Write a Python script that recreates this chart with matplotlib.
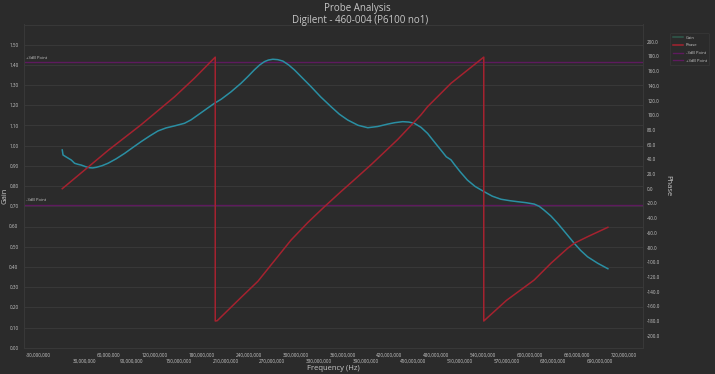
import matplotlib
matplotlib.use("Agg")
import matplotlib.pyplot as plt
from matplotlib.ticker import FuncFormatter

# ---- data (frequency in MHz) ----
gain_freq_mhz = [1, 2, 7, 12.6, 16.8, 21, 25.4, 31, 36, 40, 44.6, 52, 59.6, 70, 80.9, 91, 102,
                 113, 123.6, 134, 144.8, 157.6, 166, 174.8, 185, 196, 204.6, 217, 230, 239,
                 247, 254, 260, 265, 270.8, 277, 283.6, 291, 298.5, 309, 319.8, 332, 345.4,
                 356, 366.8, 380, 392.4, 405, 418, 427, 437.2, 445, 452, 460.6, 469, 477,
                 486, 493, 497, 499, 503, 511, 520, 530, 541.6, 552, 563, 574, 584, 595,
                 605.6, 612, 618, 627, 635.6, 646, 656.9, 665, 674, 687, 700]
gain_vals = [0.979, 0.954, 0.942, 0.929, 0.913, 0.908, 0.904, 0.896, 0.891, 0.890, 0.893,
             0.901, 0.913, 0.935, 0.962, 0.990, 1.020, 1.048, 1.073, 1.088, 1.098, 1.111,
             1.128, 1.152, 1.180, 1.210, 1.230, 1.266, 1.309, 1.343, 1.375, 1.400, 1.416,
             1.424, 1.428, 1.426, 1.419, 1.400, 1.375, 1.334, 1.292, 1.242, 1.193, 1.156,
             1.127, 1.101, 1.089, 1.095, 1.107, 1.114, 1.119, 1.117, 1.111, 1.091, 1.061,
             1.022, 0.979, 0.945, 0.935, 0.930, 0.909, 0.870, 0.830, 0.798, 0.772, 0.750,
             0.735, 0.728, 0.723, 0.718, 0.711, 0.700, 0.682, 0.652, 0.616, 0.568, 0.517,
             0.482, 0.450, 0.418, 0.391]

phase_freq_mhz = [1, 38.2, 59.6, 102, 144.8, 170, 197, 197, 199.5, 230, 251.6, 272.8, 294,
                  315.6, 336.9, 358, 375, 397, 430.8, 460.6, 469, 499, 541, 541, 570, 605.6,
                  627, 648.4, 656.8, 674, 700]
phase_vals = [0, 33, 52, 87, 125, 150, 179, -180, -179.6, -148, -126, -98, -70,
              -46, -24.5, -4, 12, 33, 67, 100.5, 111.6, 143.4, 179, -180, -152,
              -124.2, -101.5, -81.1, -74.3, -65.3, -52.5]

plus_3db = 1.414
minus_3db = 0.707

gain_ticks = [0.0, 0.1, 0.2, 0.3, 0.4, 0.5, 0.6, 0.7, 0.8, 0.9, 1.0, 1.1, 1.2, 1.3, 1.4, 1.5]
phase_ticks = list(range(-200, 201, 20))
x_ticks_row1 = [-30, 60, 120, 180, 240, 300, 360, 420, 480, 540, 600, 660, 720]
x_ticks_row2 = [30, 90, 150, 210, 270, 330, 390, 450, 510, 570, 630, 690]

# ---- style ----
BG = "#2b2b2b"
GRID = "#393939"
TXT = "#c8c8c8"
C_GAIN = "#2a8fa3"
C_PHASE = "#a5222f"
C_3DB = "#5e1a5e"
plt.rcParams['font.family'] = ['Open Sans', 'DejaVu Sans']

fig = plt.figure(figsize=(7.15, 3.74), dpi=100, facecolor=BG)
W, H = 715, 374
x0, x1, yt, yb = 24, 643, 24.5, 347.7
ax = fig.add_axes([x0 / W, 1 - yb / H, (x1 - x0) / W, (yb - yt) / H])
ax.set_facecolor(BG)
ax2 = ax.twinx()

ax.set_xlim(-48, 745)
ax.set_ylim(0, 1.6)
ax2.set_ylim(-216.3, 223.4)

ax.set_yticks(gain_ticks)
ax.yaxis.set_major_formatter(FuncFormatter(lambda v, p: f"{v:.2f}"))
ax.grid(axis='y', color=GRID, lw=0.7)
ax.set_axisbelow(True)
ax2.set_yticks(phase_ticks)
ax2.yaxis.set_major_formatter(FuncFormatter(lambda v, p: f"{v:.1f}"))

ax.set_xticks(x_ticks_row1)
ax.set_xticks(x_ticks_row2, minor=True)
fmt = FuncFormatter(lambda v, p: f"{int(round(v * 1e6)):,}")
ax.xaxis.set_major_formatter(fmt)
ax.xaxis.set_minor_formatter(fmt)

for a in (ax, ax2):
    for s in a.spines.values():
        s.set_color(GRID)
        s.set_linewidth(0.7)
ax.tick_params(axis='x', which='major', length=0, pad=3.5, labelsize=3.3, colors=TXT)
ax.tick_params(axis='x', which='minor', length=0, pad=8, labelsize=3.3, colors=TXT)
ax.tick_params(axis='y', length=0, pad=4, labelsize=3.3, colors=TXT)
ax2.tick_params(axis='y', length=0, pad=3, labelsize=3.3, colors=TXT)

l3p = ax.axhline(plus_3db, color=C_3DB, lw=1.0, zorder=2)
l3m = ax.axhline(minus_3db, color=C_3DB, lw=1.0, zorder=2)
ax.text(-46, plus_3db + 0.012, "+3dB Point", fontsize=3, color=TXT, va='bottom', ha='left')
ax.text(-46, minus_3db + 0.012, "-3dB Point", fontsize=3, color=TXT, va='bottom', ha='left')

lg, = ax.plot(gain_freq_mhz, gain_vals, color=C_GAIN, lw=1.1, zorder=4)
lp, = ax2.plot(phase_freq_mhz, phase_vals, color=C_PHASE, lw=1.1, zorder=3)

ax.set_xlabel("Frequency (Hz)", fontsize=5.5, color=TXT, labelpad=1)
ax.set_ylabel("Gain", fontsize=5.5, color=TXT)
ax.yaxis.set_label_coords(-0.0255, 0.47)
ax2.set_ylabel("Phase", fontsize=5.5, color=TXT, rotation=270, labelpad=8)
ax.xaxis.set_label_coords(0.5, -0.052)

fig.text(357 / W, 1 - 8 / H, "Probe Analysis", ha='center', va='center', fontsize=7, color=TXT)
fig.text(360 / W, 1 - 21 / H, "Digilent - 460-004 (P6100 no1)", ha='center', va='center',
         fontsize=7, color=TXT)

leg = fig.legend([lg, lp, l3m, l3p], ["Gain", "Phase", "-3dB Point", "+3dB Point"],
                 loc='upper left', bbox_to_anchor=(668 / W, 1 - 31 / H), fontsize=3,
                 frameon=True, facecolor=BG, edgecolor=GRID, labelcolor=TXT,
                 handlelength=2.5, handletextpad=0.6, borderpad=0.6, labelspacing=0.9)
leg.get_frame().set_linewidth(0.6)
leg.get_lines()[0].set_color("#2f5a4c")

fig.savefig("out.png", dpi=100, facecolor=BG)
